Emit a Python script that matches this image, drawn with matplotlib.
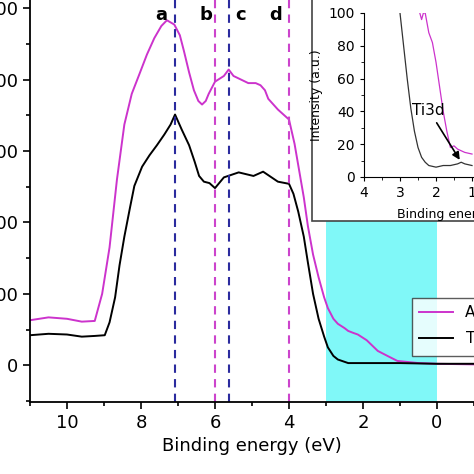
import matplotlib
matplotlib.use("Agg")
import matplotlib.pyplot as plt
from matplotlib.patches import Rectangle

mag_x = [11.0, 10.5, 10.0, 9.6, 9.25, 9.05, 8.85, 8.65, 8.45, 8.25, 8.04, 7.84, 7.64, 7.45, 7.3, 7.1, 6.95, 6.84, 6.7, 6.57, 6.45, 6.35, 6.25, 6.17, 6.0, 5.76, 5.63, 5.5, 5.3, 5.1, 4.9, 4.77, 4.65, 4.56, 4.3, 4.0, 3.85, 3.75, 3.6, 3.49, 3.35, 3.2, 3.05, 2.95, 2.8, 2.68, 2.5, 2.4, 2.25, 2.14, 1.9, 1.6, 1.3, 1.07, 0.5, 0.0, -1.2]
mag_y = [63, 67, 65, 61, 62, 100, 165, 260, 337, 380, 408, 435, 458, 475, 483, 477, 462, 440, 410, 385, 370, 365, 370, 380, 397, 405, 414, 405, 400, 395, 395, 392, 385, 373, 358, 344, 310, 280, 235, 195, 155, 123, 95, 80, 65, 58, 52, 48, 45, 43, 35, 20, 12, 6, 3, 2, 1]
blk_x = [11.0, 10.5, 10.0, 9.6, 9.25, 8.98, 8.85, 8.7, 8.58, 8.45, 8.3, 8.18, 7.97, 7.77, 7.57, 7.37, 7.2, 7.08, 6.9, 6.7, 6.55, 6.43, 6.3, 6.15, 6.0, 5.76, 5.36, 4.96, 4.7, 4.3, 4.0, 3.88, 3.75, 3.6, 3.49, 3.35, 3.2, 3.05, 2.95, 2.8, 2.68, 2.4, 2.0, 1.0, 0.0, -1.2]
blk_y = [42, 44, 43, 40, 41, 42, 60, 95, 140, 180, 220, 251, 278, 294, 308, 323, 337, 351, 330, 308, 285, 265, 257, 255, 248, 263, 270, 265, 271, 257, 254, 240, 215, 180, 144, 100, 65, 40, 25, 13, 8, 3, 3, 3, 2, 2]
ins_bx = [3.0, 2.9, 2.8, 2.7, 2.6, 2.5, 2.4, 2.3, 2.2, 2.1, 2.0, 1.8, 1.6, 1.4, 1.3, 1.2, 1.0]
ins_by = [100, 80, 60, 42, 28, 18, 12, 9, 7, 6.5, 6, 7, 7, 8, 9, 8, 7]
ins_mx = [2.45, 2.4, 2.35, 2.3, 2.2, 2.1, 2.0, 1.9, 1.8, 1.7, 1.6, 1.5, 1.4, 1.2, 1.0]
ins_my = [100, 96, 100, 100, 88, 82, 70, 55, 40, 28, 18, 19, 17, 15, 14]
peaks = [7.08, 6.0, 5.63, 4.0]
peak_labels = ["a", "b", "c", "d"]
label_x = [7.45, 6.25, 5.3, 4.35]
peak_colors = ["#2b2b9e", "#cc44cc", "#2b2b9e", "#cc44cc"]

MAG = "#cc33cc"
fig = plt.figure(figsize=(4.74, 4.74), dpi=100)
ax = fig.add_axes([30/474, 72/474, 1 - 30/474, 402/474 + 0.01])
ax.set_xlim(11.0, -0.9)
ax.set_ylim(-51.5, 518)
ax.axvspan(3, 0, color="#80f8f8", zorder=0, lw=0)
ax.plot(mag_x, mag_y, color=MAG, lw=1.4, label="Anatase")
ax.plot(blk_x, blk_y, color="black", lw=1.4, label="TiO$_2$")
for p, l, lx, c in zip(peaks, peak_labels, label_x, peak_colors):
    ax.axvline(p, color=c, ls=(0, (4, 3)), lw=1.5)
    ax.text(lx, 490, l, ha="center", va="center", fontsize=13, fontweight="bold")
ax.set_xticks([10, 8, 6, 4, 2, 0])
ax.set_xticks([11, 9, 7, 5, 3, 1, -1], minor=True)
ax.set_yticks([0, 100, 200, 300, 400, 500])
ax.set_yticks([-50, 50, 150, 250, 350, 450], minor=True)
ax.tick_params(labelsize=13, direction="out", length=5, width=1.2)
ax.tick_params(which="minor", length=3, width=1.2)
ax.spines["top"].set_visible(False)
ax.spines["right"].set_visible(False)
for s in ["left", "bottom"]:
    ax.spines[s].set_linewidth(1.3)
ax.set_xlabel("Binding energy (eV)", fontsize=13)
leg = ax.legend(loc="upper left", bbox_to_anchor=(404/474, 1 - 290/474), bbox_transform=fig.transFigure,
                fontsize=11, frameon=True, fancybox=False, edgecolor="#333333", handlelength=2.2,
                labelspacing=0.6, borderpad=0.5)
leg.get_frame().set_linewidth(1.0)

fig.patches.append(Rectangle((312/474, 1 - 221/474), 0.5, 0.6, transform=fig.transFigure,
                             facecolor="white", edgecolor="#444444", lw=1.2, zorder=5))
ins = fig.add_axes([364/474, 1 - 177/474, 0.5, 164/474], zorder=6)
ins.set_xlim(4, 4 - 0.5 * 474 / 36)
ins.set_ylim(0, 100)
ins.plot(ins_bx, ins_by, color="#333333", lw=0.9)
ins.plot(ins_mx, ins_my, color=MAG, lw=0.9)
ins.set_xticks([4, 3, 2, 1])
ins.set_xticks([3.5, 2.5, 1.5], minor=True)
ins.set_yticks([0, 20, 40, 60, 80, 100])
ins.set_yticks([10, 30, 50, 70, 90], minor=True)
ins.tick_params(labelsize=10, direction="out", length=3)
ins.tick_params(which="minor", length=2)
ins.spines["top"].set_visible(False)
ins.spines["right"].set_visible(False)
ins.set_ylabel("Intensity (a.u.)", fontsize=9, labelpad=4)
ins.set_xlabel("Binding energy (eV)", fontsize=9, ha="left", labelpad=6, x=0.14)
ins.annotate("Ti3d", xy=(1.3, 9), xytext=(2.2, 38), fontsize=11, ha="center",
             arrowprops=dict(arrowstyle="-|>", color="black", lw=1.2))
fig.savefig("out.png", dpi=100)
